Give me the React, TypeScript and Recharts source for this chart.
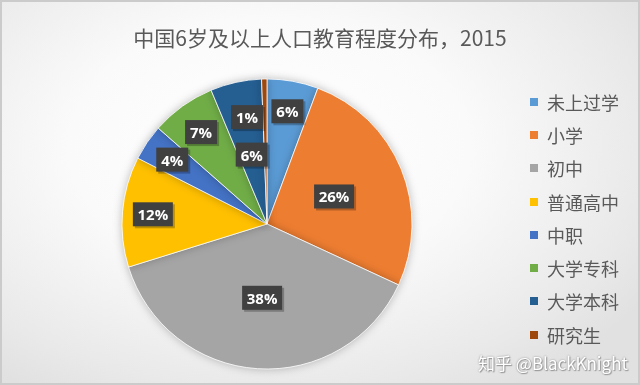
import React from 'react';
import { PieChart, Pie, Cell, Legend } from 'recharts';

const categories = ['未上过学', '小学', '初中', '普通高中', '中职', '大学专科', '大学本科', '研究生'];
const shares = [5.7, 26.2, 38.3, 12.3, 4.0, 7.2, 5.7, 0.6];
const colors = ['#5B9BD5', '#ED7D31', '#A5A5A5', '#FFC000', '#4472C4', '#70AD47', '#255E91', '#9E480E'];

const title = '中国6岁及以上人口教育程度分布，2015';

// where each data label sits, as a share of the radius (Excel "best fit" look)
const labelRadius = [0.79, 0.5, 0.51, 0.79, 0.79, 0.78, 0.49, 0.75];
const labelAngleShift = [0, 0, 0, 0, 0, 0, 0, 9.5];

const data = categories.map((name, i) => ({ name, value: shares[i] }));

const RAD = Math.PI / 180;

const renderLabel = (props: any) => {
  const { cx, cy, midAngle, outerRadius, percent, index } = props;
  const r = outerRadius * labelRadius[index];
  const a = (midAngle + labelAngleShift[index]) * RAD;
  const x = cx + r * Math.cos(-a);
  const y = cy + r * Math.sin(-a);
  const text = `${Math.round(percent * 100)}%`;
  const w = text.length === 2 ? 32 : 40;
  const h = 24;
  return (
    <g key={`lbl-${index}`}>
      <rect x={x - w / 2 + 2} y={y - h / 2 + 2} width={w} height={h} fill="rgba(0,0,0,0.25)" />
      <rect x={x - w / 2} y={y - h / 2} width={w} height={h} fill="#404040" />
      <text
        x={x}
        y={y}
        fill="#ffffff"
        textAnchor="middle"
        dominantBaseline="central"
        fontFamily="'Open Sans', 'Liberation Sans', sans-serif"
        fontWeight={700}
        fontSize={15}
      >
        {text}
      </text>
    </g>
  );
};

const renderLegend = () => (
  <div>
    {categories.map((name, i) => (
      <div key={name} style={{ display: 'flex', alignItems: 'center', height: 33.3 }}>
        <div style={{ width: 8, height: 8, background: colors[i], marginRight: 9 }} />
        <div
          style={{
            fontSize: 18,
            lineHeight: '18px',
            color: '#595959',
            whiteSpace: 'nowrap',
            fontFamily: "'Noto Sans CJK SC', sans-serif",
          }}
        >
          {name}
        </div>
      </div>
    ))}
  </div>
);

export default function App() {
  return (
    <div
      style={{
        position: 'fixed',
        left: 0,
        top: 0,
        width: 640,
        height: 385,
        boxSizing: 'border-box',
        border: '2px solid #cbcbcb',
        background: 'radial-gradient(ellipse 70% 75% at 42% 38%, #ffffff 0%, #fafafa 45%, #e9e9e9 85%, #e1e1e1 100%)',
        fontFamily: "'Noto Sans CJK SC', sans-serif",
        overflow: 'hidden',
      }}
    >
      <div
        style={{
          position: 'absolute',
          left: 0,
          top: 20,
          width: 636,
          textAlign: 'center',
          fontSize: 21,
          lineHeight: '30px',
          color: '#595959',
        }}
      >
        {title}
      </div>
      <div style={{ position: 'absolute', left: -2, top: -2 }}>
        <PieChart width={640} height={385}>
          <Pie
            data={data}
            dataKey="value"
            nameKey="name"
            cx={262}
            cy={219}
            outerRadius={145}
            startAngle={90}
            endAngle={-270}
            stroke="#ffffff"
            strokeWidth={0.8}
            label={renderLabel}
            labelLine={false}
            isAnimationActive={false}
            style={{ filter: 'drop-shadow(0px 0px 4px rgba(0,0,0,0.25))' }}
          >
            {data.map((d, i) => (
              <Cell key={d.name} fill={colors[i]} />
            ))}
          </Pie>
          <Legend
            content={renderLegend}
            layout="vertical"
            wrapperStyle={{ position: 'absolute', left: 530, top: 85, width: 110 }}
          />
        </PieChart>
      </div>
      <div
        style={{
          position: 'absolute',
          left: 476,
          top: 352,
          fontSize: 17,
          lineHeight: '17px',
          color: '#ffffff',
          textShadow: '0 0 2px #888, 1px 1px 1px #999',
          whiteSpace: 'nowrap',
        }}
      >
        知乎 @BlackKnight
      </div>
    </div>
  );
}
